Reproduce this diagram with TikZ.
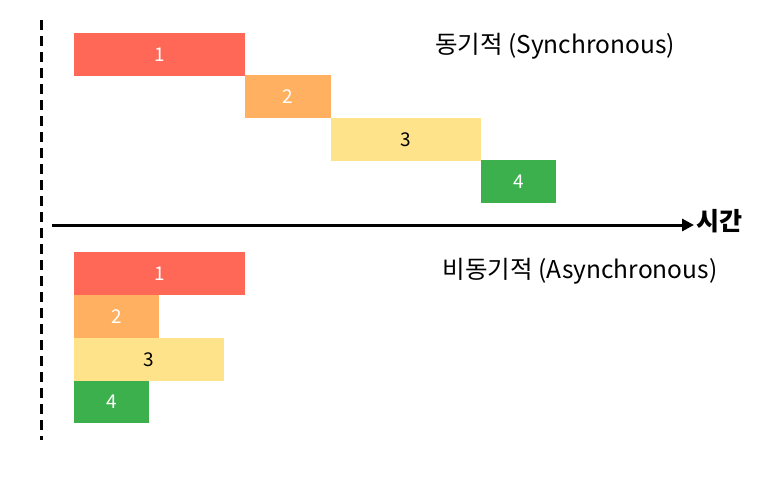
\documentclass[tikz,border=0pt]{standalone}
\usepackage{fontspec}
\setmainfont{Noto Sans CJK KR}
\usetikzlibrary{arrows.meta}
\definecolor{cred}{HTML}{FF6757}
\definecolor{corange}{HTML}{FFB061}
\definecolor{cyellow}{HTML}{FFE38A}
\definecolor{cgreen}{HTML}{3BB04D}
\begin{document}
\begin{tikzpicture}[x=1pt,y=-1pt,
  bar/.style={draw=none,inner sep=0pt,font=\fontsize{19}{21}\selectfont},
  lbl/.style={font=\fontsize{24.5}{28}\selectfont}]
\useasboundingbox (0,0) rectangle (775,477);
\coordinate (dtop) at (41,20); \coordinate (dbot) at (41,440);
\draw[line width=3pt,dash pattern=on 10pt off 6pt] (dtop) -- (dbot);
% top
\node[bar,fill=cred,text=white,minimum width=171pt,minimum height=43pt,anchor=north west] (s1) at (74,33) {1};
\node[bar,fill=corange,text=white,minimum width=86pt,minimum height=43pt,anchor=north west] (s2) at (245,75) {2};
\node[bar,fill=cyellow,text=black,minimum width=150pt,minimum height=43pt,anchor=north west] (s3) at (331,118) {3};
\node[bar,fill=cgreen,text=white,minimum width=75pt,minimum height=43pt,anchor=north west] (s4) at (481,160) {4};
\node[lbl] (st) at (555,46) {동기적 (Synchronous)};
% axis
\coordinate (a0) at (52,225);
\node[font=\fontsize{25}{28}\selectfont\bfseries,anchor=west,inner sep=2pt] (time) at (694,221) {시간};
\draw[line width=3pt,-{Triangle[length=12pt,width=12pt]}] (a0) -- (time.west |- a0);
% bottom
\node[bar,fill=cred,text=white,minimum width=171pt,minimum height=43pt,anchor=north west] (b1) at (74,252) {1};
\node[bar,fill=corange,text=white,minimum width=85pt,minimum height=43pt,anchor=north west] (b2) at (74,295) {2};
\node[bar,fill=cyellow,text=black,minimum width=150pt,minimum height=43pt,anchor=north west] (b3) at (74,338) {3};
\node[bar,fill=cgreen,text=white,minimum width=75pt,minimum height=42pt,anchor=north west] (b4) at (74,381) {4};
\node[lbl] (at) at (580,271) {비동기적 (Asynchronous)};
\end{tikzpicture}
\end{document}
